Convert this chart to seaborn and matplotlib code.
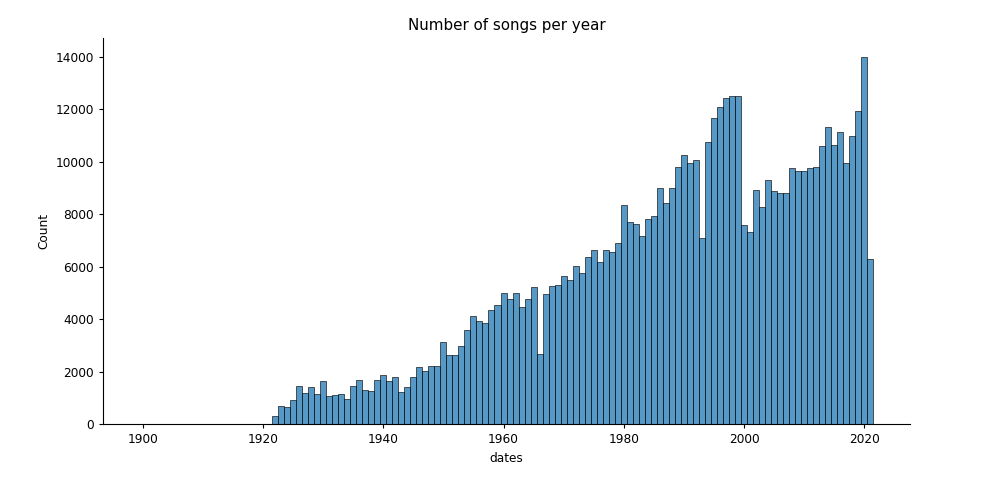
import numpy as np
import pandas as pd
import matplotlib
matplotlib.use("Agg")
import matplotlib.pyplot as plt
import seaborn as sns

# songs per release year
years = [1900] + list(range(1922, 2022))
counts = [2,
          300, 690, 650, 905, 1453, 1200, 1400, 1150, 1630, 1070,        # 1922-1931
          1110, 1150, 970, 1440, 1680, 1300, 1250, 1680, 1870, 1640,     # 1932-1941
          1785, 1210, 1400, 1785, 2170, 2015, 2205, 2205, 3120, 2625,    # 1942-1951
          2625, 2970, 3595, 4120, 3925, 3840, 4360, 4550, 5015, 4780,    # 1952-1961
          5015, 4460, 4780, 5210, 2685, 4975, 5250, 5290, 5635, 5510,    # 1962-1971
          6020, 5740, 6350, 6640, 6180, 6640, 6570, 6885, 8365, 7700,    # 1972-1981
          7610, 7165, 7830, 7930, 8990, 8415, 8990, 9805, 10275, 9945,   # 1982-1991
          10085, 7075, 10750, 11650, 12100, 12420, 12520, 12520, 7600, 7305,  # 1992-2001
          8925, 8275, 9310, 8885, 8800, 8800, 9755, 9650, 9650, 9755,    # 2002-2011
          9805, 10610, 11320, 10645, 11130, 9945, 10990, 11950, 14010, 6300]  # 2012-2021

df = pd.DataFrame({"dates": years, "n": counts})

plt.rcParams["xtick.labelsize"] = 8.7
plt.rcParams["ytick.labelsize"] = 8.7
plt.rcParams["axes.labelsize"] = 8.7
plt.rcParams["axes.titlesize"] = 10.9
plt.rcParams["xtick.major.size"] = 2.9
plt.rcParams["ytick.major.size"] = 2.9

fig, ax = plt.subplots(figsize=(10.05, 4.83), dpi=100)
fig.subplots_adjust(left=0.1025, right=0.9055, top=0.921, bottom=0.122)
sns.histplot(data=df, x="dates", weights="n", discrete=True, ax=ax)
sns.despine()
ax.set_title("Number of songs per year")
plt.savefig("out.png", dpi=100)
